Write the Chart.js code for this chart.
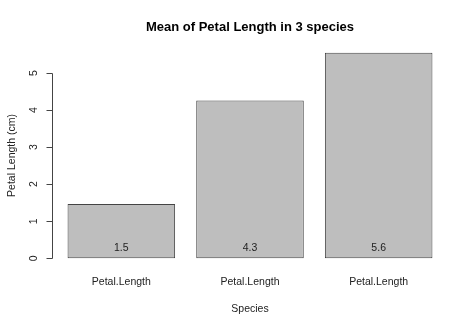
<!DOCTYPE html>
<html>
<head>
<meta charset="utf-8">
<script src="https://cdn.jsdelivr.net/npm/chart.js@4"></script>
<style>
  html, body { margin: 0; padding: 0; background: #fff; }
  #wrap { width: 474px; height: 327px; }
</style>
</head>
<body>
<div id="wrap"><canvas id="grafico"></canvas></div>
<script>
/* dados */
const species = ["Petal.Length", "Petal.Length", "Petal.Length"];
const meanPetal = [1.462, 4.26, 5.552];
const yTicks = [0, 1, 2, 3, 4, 5];

const fonte = "'Liberation Sans', Arial, sans-serif";

// eixo Y no estilo do R + rótulos de valor
const eixoR = {
  id: "eixoR",
  afterDraw(chart) {
    const ctx = chart.ctx;
    const y = chart.scales.y;
    const area = chart.chartArea;
    const xAxis = area.left - 4.5;

    ctx.save();
    ctx.strokeStyle = "#444";
    ctx.lineWidth = 1;
    ctx.beginPath();
    ctx.moveTo(xAxis, Math.round(y.getPixelForValue(yTicks[0])) + 0.5);
    ctx.lineTo(xAxis, Math.round(y.getPixelForValue(yTicks[yTicks.length - 1])) + 0.5);
    yTicks.forEach((t) => {
      const py = Math.round(y.getPixelForValue(t)) + 0.5;
      ctx.moveTo(xAxis, py);
      ctx.lineTo(xAxis - 6, py);
    });
    ctx.stroke();

    ctx.fillStyle = "#222";
    ctx.font = "10.5px " + fonte;
    ctx.textAlign = "center";
    ctx.textBaseline = "middle";
    yTicks.forEach((t) => {
      const py = y.getPixelForValue(t);
      ctx.save();
      ctx.translate(xAxis - 18, py);
      ctx.rotate(-Math.PI / 2);
      ctx.fillText(String(t), 0, 0);
      ctx.restore();
    });

    ctx.save();
    ctx.translate(12, (area.top + area.bottom) / 2);
    ctx.rotate(-Math.PI / 2);
    ctx.fillText("Petal Length (cm)", 0, 0);
    ctx.restore();

    // valores dentro das barras
    const meta = chart.getDatasetMeta(0);
    meta.data.forEach((bar, i) => {
      ctx.fillText(meanPetal[i].toFixed(1), bar.x, bar.base - 10);
    });
    ctx.restore();
  },
};

const maxVal = Math.max(...meanPetal);

new Chart(document.getElementById("grafico"), {
  type: "bar",
  data: {
    labels: species,
    datasets: [
      {
        data: meanPetal,
        backgroundColor: "#bebebe",
        borderColor: "#444",
        borderWidth: 1,
        borderSkipped: false,
        barPercentage: 107 / 128,
        categoryPercentage: 1,
      },
    ],
  },
  options: {
    responsive: true,
    maintainAspectRatio: false,
    animation: false,
    layout: { padding: { left: 57, right: 31, top: 0, bottom: 11.5 } },
    plugins: {
      legend: { display: false },
      tooltip: { enabled: false },
      title: {
        display: true,
        text: "Mean of Petal Length in 3 species",
        color: "#000",
        font: { family: fonte, size: 13, weight: "bold", lineHeight: 1.2 },
        padding: { top: 19.2, bottom: 9.6 },
      },
    },
    scales: {
      x: {
        grid: { display: false, drawTicks: false },
        border: { display: false },
        ticks: {
          color: "#222",
          padding: 9.7,
          font: { family: fonte, size: 10.5, lineHeight: 1.2 },
        },
        title: {
          display: true,
          text: "Species",
          color: "#222",
          padding: { top: 4.4, bottom: 0 },
          font: { family: fonte, size: 10.5, lineHeight: 1.2 },
        },
      },
      y: {
        display: false,
        min: -0.04 * maxVal,
        max: maxVal * 1.04,
      },
    },
  },
  plugins: [eixoR],
});
</script>
</body>
</html>
